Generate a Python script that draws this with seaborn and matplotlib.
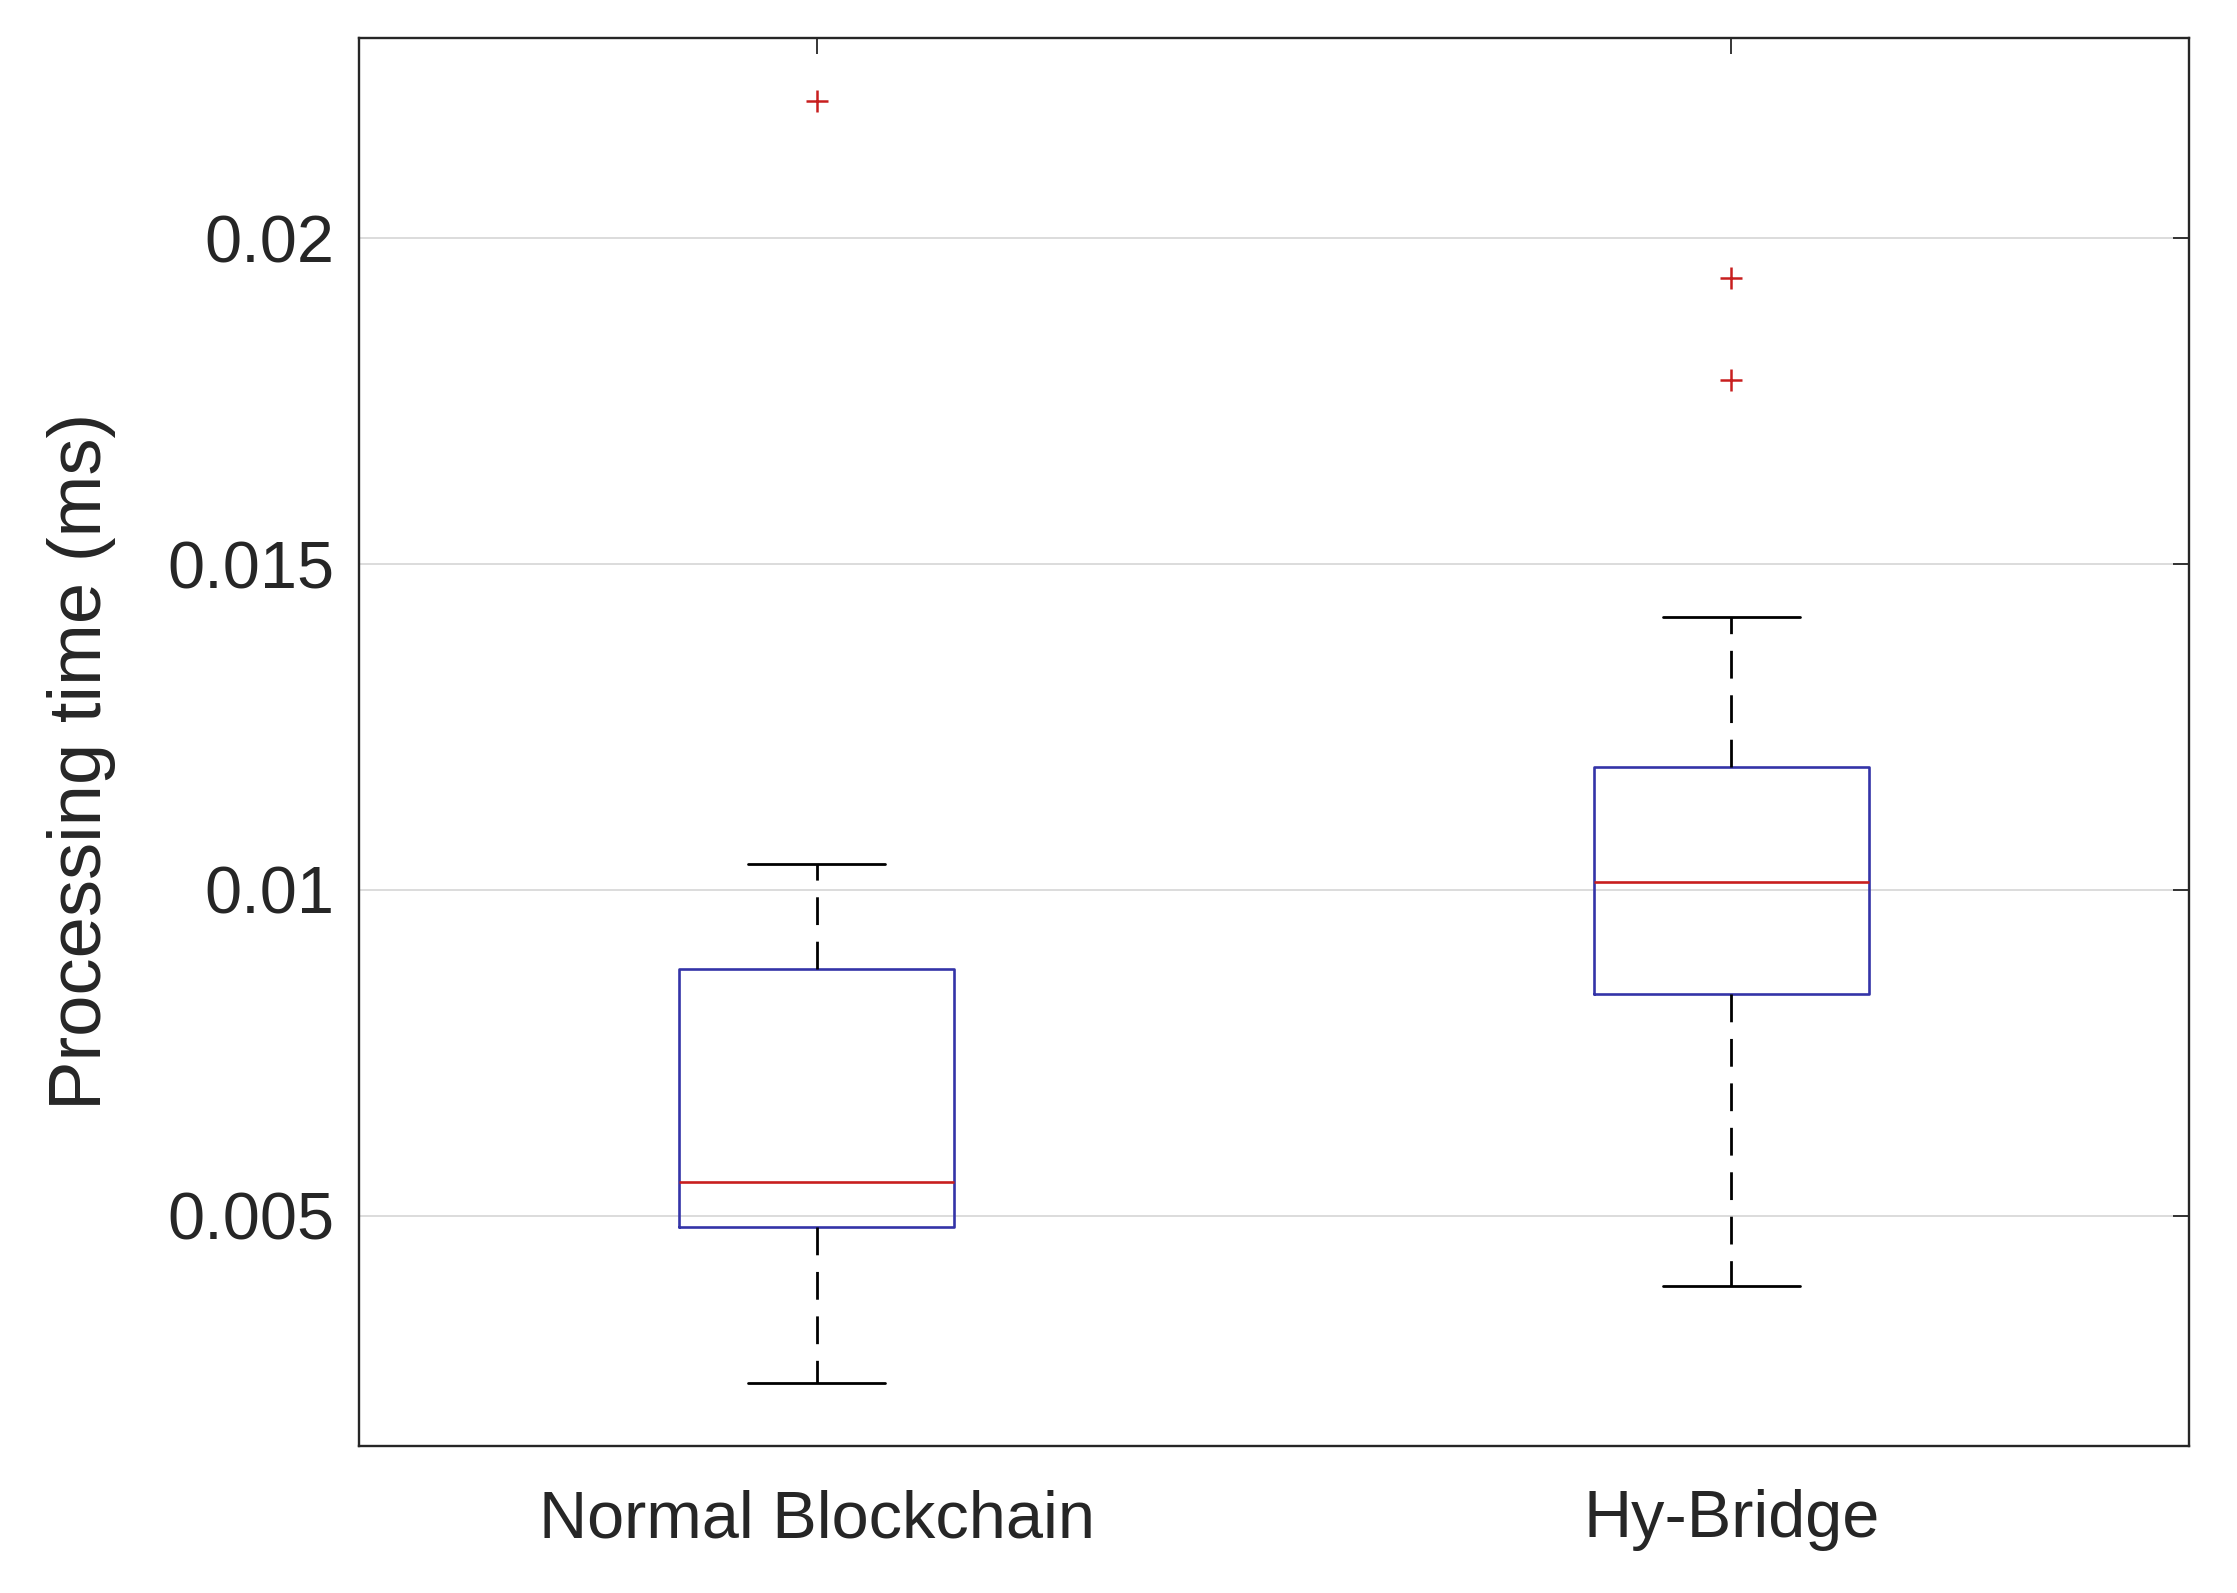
import matplotlib
matplotlib.use('Agg')
import matplotlib.pyplot as plt
import numpy as np
import pandas as pd
import seaborn as sns

# values (ms)
categories = ['Normal Blockchain', 'Hy-Bridge']
whisker_lo = [0.00244, 0.00392]
q1 = [0.00483, 0.00840]
medians = [0.00552, 0.01012]
q3 = [0.00879, 0.01188]
whisker_hi = [0.01040, 0.01419]
outliers = [[0.02210], [0.01782, 0.01939]]

yticks = [0.005, 0.01, 0.015, 0.02]
ytick_labels = ['0.005', '0.01', '0.015', '0.02']

BOX_BLUE = '#3434a8'
RED = '#c81e1e'
INK = '#262626'

# rebuild a sample per group that has exactly these quartiles / whiskers
rows = []
for i, cat in enumerate(categories):
    n_out = len(outliers[i])
    # with n = 4k+1 points numpy's linear percentiles land on index k, 2k, 3k
    k = 2 if n_out == 1 else 3
    vals = [whisker_lo[i]] + [q1[i]] * k + [medians[i]] * k + [q3[i]] * k + [whisker_hi[i]] + outliers[i]
    for v in vals:
        rows.append({'method': cat, 'time': v})
df = pd.DataFrame(rows)

sns.set_style('white')
plt.rcParams['font.family'] = ['Liberation Sans', 'DejaVu Sans']

fig = plt.figure(figsize=(22.37, 15.93), dpi=100)
ax = fig.add_axes([0.1605, 0.0923, 0.9785 - 0.1605, 0.9761 - 0.0923])

sns.boxplot(data=df, x='method', y='time', order=categories, ax=ax,
            width=0.3, whis=1.5, fill=False, color=BOX_BLUE, linewidth=1.9,
            boxprops=dict(color=BOX_BLUE, linewidth=1.9),
            medianprops=dict(color=RED, linewidth=1.9),
            whiskerprops=dict(color='black', linewidth=2.0, linestyle=(0, (10, 6))),
            capprops=dict(color='black', linewidth=2.0),
            flierprops=dict(marker='+', markeredgecolor=RED, markerfacecolor=RED,
                            markersize=16, markeredgewidth=1.8, linestyle='none'))

ax.set_xlim(-0.5, 1.5)
ax.set_ylim(0.00147, 0.02307)
ax.set_yticks(yticks, ytick_labels)
ax.set_xlabel('')
ax.set_ylabel('Processing time (ms)', fontsize=53.5, color=INK)
ax.yaxis.set_label_coords(-0.133, 0.486)

ax.yaxis.grid(True, color='#d9d9d9', linewidth=1.3)
ax.xaxis.grid(False)
ax.set_axisbelow(True)

ax.tick_params(axis='both', direction='in', top=True, right=True, length=11.5,
               width=1.3, color=INK, labelsize=48, labelcolor=INK)
ax.tick_params(axis='x', pad=31)
ax.tick_params(axis='y', pad=18)

for s in ax.spines.values():
    s.set_visible(True)
    s.set_color(INK)
    s.set_linewidth(1.7)

fig.savefig('out.png', dpi=100, facecolor='white')
